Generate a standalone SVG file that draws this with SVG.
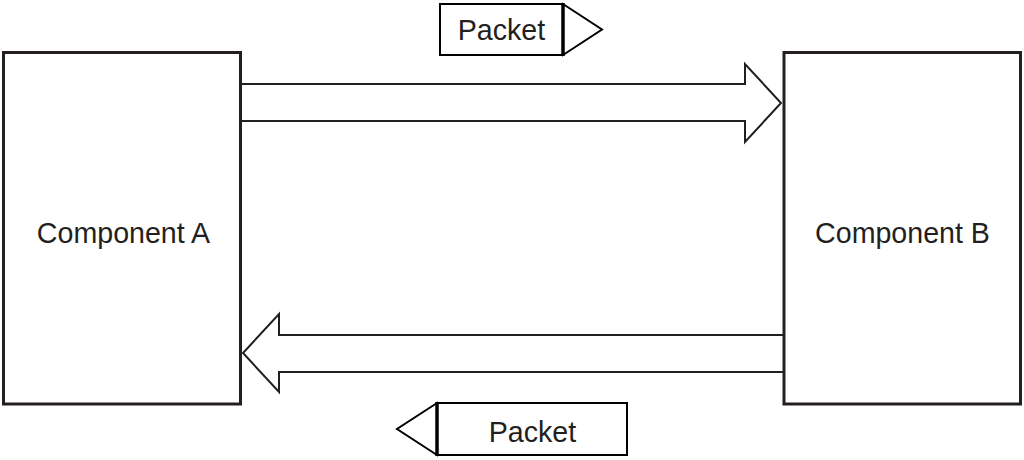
<svg xmlns="http://www.w3.org/2000/svg" width="1024" height="460" viewBox="0 0 1024 460">
  <style>
    .box { fill: #ffffff; stroke: #231f20; stroke-width: 3; }
    .arrow { fill: #ffffff; stroke: #231f20; stroke-width: 2; stroke-linejoin: miter; }
    .tag { fill: #ffffff; stroke: #000000; stroke-width: 2; }
    .label { font-family: "Liberation Sans", Arial, sans-serif; font-size: 28.6px; fill: #231f20; text-anchor: middle; }
  </style>
  <rect x="0" y="0" width="1024" height="460" fill="#ffffff"/>

  <!-- connectors: wide block arrows between the components -->
  <g id="connectors">
    <path class="arrow" d="M241,84 H745 V64 L781,103 L745,142 V121 H241"/>
    <path class="arrow" d="M783,335 H279 V314 L243,353 L279,392 V372 H783"/>
  </g>

  <g id="component-a">
    <rect class="box" x="3.5" y="52.5" width="237" height="351.5"/>
    <text class="label" x="123.5" y="243">Component A</text>
  </g>

  <g id="component-b">
    <rect class="box" x="784" y="52.5" width="236.5" height="351.5"/>
    <text class="label" x="902.5" y="243">Component B</text>
  </g>

  <!-- packet travelling from A to B -->
  <g id="packet-forward">
    <rect class="tag" x="440" y="4" width="123" height="51"/>
    <path class="tag" d="M563,4 L602,29.5 L563,55 Z"/>
    <line x1="563" y1="3" x2="563" y2="56" stroke="#000000" stroke-width="3.5"/>
    <text class="label" x="501.5" y="39.5">Packet</text>
  </g>

  <!-- packet travelling from B to A -->
  <g id="packet-return">
    <rect class="tag" x="437" y="403" width="190" height="52"/>
    <path class="tag" d="M437,403 L397,429 L437,455 Z"/>
    <line x1="437" y1="402" x2="437" y2="456" stroke="#000000" stroke-width="3.5"/>
    <text class="label" x="532.5" y="441.5">Packet</text>
  </g>
</svg>
